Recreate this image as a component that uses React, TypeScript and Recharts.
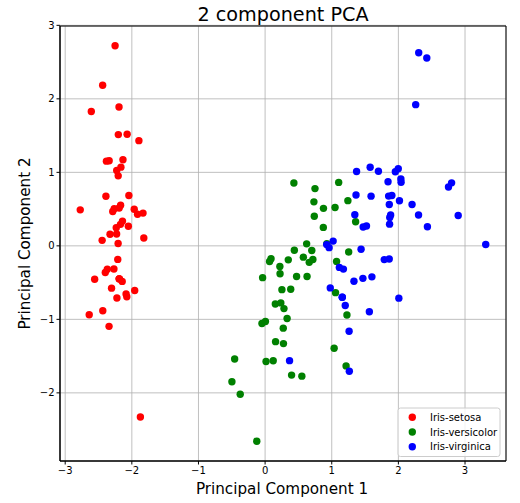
import React from "react";
import {
  ScatterChart, Scatter, XAxis, YAxis, CartesianGrid, ReferenceArea,
} from "recharts";

// principal component values per species, [pc1, pc2]
const setosa: [number, number][] = [
  [-2.264542, 0.505704], [-2.086426, -0.655405], [-2.36795, -0.318477], [-2.304197, -0.575368],
  [-2.388777, 0.674767], [-2.070537, 1.518549], [-2.445711, 0.074563], [-2.233842, 0.247614],
  [-2.341958, -1.095146], [-2.188676, -0.448629], [-2.163487, 1.070596], [-2.327378, 0.158587],
  [-2.224083, -0.709118], [-2.639716, -0.938282], [-2.192292, 1.889979], [-2.251465, 2.722371],
  [-2.20275, 1.51375], [-2.190179, 0.514304], [-1.894074, 1.431111], [-2.339949, 1.158033],
  [-1.914556, 0.430465], [-2.204644, 0.952457], [-2.77417, 0.489517], [-1.820412, 0.106751],
  [-2.228217, 0.162186], [-1.957024, -0.607893], [-2.052063, 0.266014], [-2.168193, 0.552017],
  [-2.140309, 0.33664], [-2.268798, -0.314878], [-2.144551, -0.483942], [-1.831936, 0.445266],
  [-2.608207, 1.828479], [-2.437953, 2.185396], [-2.188676, -0.448629], [-2.211111, -0.184337],
  [-2.044416, 0.684956], [-2.188676, -0.448629], [-2.435951, -0.88217], [-2.170545, 0.292727],
  [-2.286475, 0.467992], [-1.871706, -2.327692], [-2.557833, -0.453816], [-1.964279, 0.497392],
  [-2.133373, 1.171432], [-2.075357, -0.691917], [-2.381258, 1.152634], [-2.39819, -0.36239],
  [-2.226782, 1.025483], [-2.205954, 0.032238],
];
const versicolor: [number, number][] = [
  [1.103994, 0.863112], [0.732481, 0.598636], [1.242109, 0.614822], [0.397307, -1.758169],
  [1.072594, -0.211758], [0.384458, -0.591062], [0.748716, 0.778699], [-0.497863, -1.848869],
  [0.926222, 0.030331], [0.004968, -1.029401], [-0.124697, -2.658063], [0.43873, -0.058881],
  [0.551634, -1.772582], [0.717165, -0.185434], [-0.037258, -0.432795], [0.87589, 0.509998],
  [0.348006, -0.190621], [0.153392, -0.790725], [1.2153, -1.633356], [0.156941, -1.303103],
  [0.738256, 0.40247], [0.472369, -0.416608], [1.227988, -0.940915], [0.629381, -0.416812],
  [0.700473, -0.063495], [0.873537, 0.250709], [1.254223, -0.08262], [1.358405, 0.32882],
  [0.662127, -0.224346], [-0.047282, -1.057217], [0.121531, -1.563592], [0.014118, -1.573392],
  [0.236011, -0.775924], [1.056694, -0.636901], [0.221417, -0.280848], [0.431783, 0.855137],
  [1.049414, 0.522198], [1.035851, -1.392465], [0.067067, -0.212621], [0.275426, -1.329816],
  [0.272335, -1.119442], [0.62317, 0.027543], [0.330005, -0.988901], [-0.373628, -2.017932],
  [0.282944, -0.853951], [0.089053, -0.174909], [0.224357, -0.380485], [0.573883, -0.15372],
  [-0.457013, -1.538647], [0.252244, -0.595861],
];
const virginica: [number, number][] = [
  [1.844568, 0.871697], [1.157882, -0.69887], [2.205267, 0.56201], [1.440151, -0.046988],
  [1.867812, 0.295045], [2.751874, 0.800409], [0.366924, -1.561503], [2.302439, 0.420066],
  [2.006865, -0.711439], [2.259772, 1.92101], [1.364193, 0.692757], [1.602673, -0.421702],
  [1.883882, 0.41925], [1.260508, -1.1624], [1.467646, -0.442272], [1.590077, 0.676243],
  [1.471432, 0.255562], [2.426322, 2.556666], [3.310695, 0.017788], [1.263767, -1.706749],
  [2.037715, 0.910467], [0.97798, -0.571764], [2.897651, 0.413643], [1.333231, -0.481812],
  [1.700742, 1.013922], [1.954328, 1.007778], [1.175104, -0.316395], [1.020951, 0.064346],
  [1.788346, -0.187364], [1.863648, 0.562291], [2.435955, 0.259284], [2.304924, 2.626323],
  [1.862705, -0.17854], [1.114161, -0.292922], [1.202678, -0.811318], [2.79877, 0.856804],
  [1.576255, 1.068581], [1.346294, 0.422431], [0.923432, 0.017223], [1.853552, 0.676731],
  [2.016155, 0.613886], [1.902311, 0.685827], [1.157882, -0.69887], [2.040556, 0.864522],
  [1.998147, 1.048882], [1.870503, 0.386966], [1.56458, -0.896687], [1.52117, 0.269069],
  [1.372788, 1.011254], [0.960656, -0.024332],
];

const targets = ["Iris-setosa", "Iris-versicolor", "Iris-virginica"];
const colors = ["#ff0000", "#008000", "#0000ff"];
const xTicks = [-3, -2, -1, 0, 1, 2, 3];
const yTicks = [-2, -1, 0, 1, 2, 3];
const xDomain: [number, number] = [-3.078, 3.615];
const yDomain: [number, number] = [-2.927, 2.991];

const groups = [setosa, versicolor, virginica].map(g => g.map(([x, y]) => ({ x, y })));

const FONT = "DejaVu Sans, sans-serif";
const fmt = (v: number) => (v < 0 ? "\u2212" + Math.abs(v) : String(v));

const Dot = (props: any) => {
  const { cx, cy, fill } = props;
  return <circle cx={cx} cy={cy} r={3.7} fill={fill} />;
};

export default function App() {
  const tickStyle = { fill: "#000", fontSize: 10, fontFamily: FONT };
  return (
    <div style={{ position: "absolute", left: 0, top: 0, width: 520, height: 503, background: "#fff" }}>
      <ScatterChart width={520} height={503} margin={{ top: 26, right: 14, bottom: 0, left: 0 }}>
        <CartesianGrid stroke="#b0b0b0" strokeWidth={0.8} />
        <XAxis
          type="number" dataKey="x" domain={xDomain} ticks={xTicks}
          tickFormatter={fmt} tick={tickStyle} tickSize={3.5} tickMargin={2}
          axisLine={{ stroke: "#000" }} tickLine={{ stroke: "#000" }} height={42}
          allowDataOverflow
        />
        <YAxis
          type="number" dataKey="y" domain={yDomain} ticks={yTicks}
          tickFormatter={fmt} tick={tickStyle} tickSize={3.5} tickMargin={2}
          axisLine={{ stroke: "#000" }} tickLine={{ stroke: "#000" }} width={60}
          allowDataOverflow
        />
        <ReferenceArea
          x1={xDomain[0]} x2={xDomain[1]} y1={yDomain[0]} y2={yDomain[1]}
          fill="none" stroke="#000" strokeWidth={1} ifOverflow="visible"
        />
        {groups.map((g, i) => (
          <Scatter
            key={targets[i]} name={targets[i]} data={g} fill={colors[i]}
            shape={<Dot />} isAnimationActive={false}
          />
        ))}
        <g>
          <rect x={398} y={408} width={102} height={48.5} rx={2.5}
            fill="#fff" fillOpacity={0.8} stroke="#cccccc" />
          {targets.map((t, i) => (
            <g key={t}>
              <circle cx={412.3} cy={417.3 + i * 14.7} r={3.7} fill={colors[i]} />
              <text x={430} y={420.8 + i * 14.7} fontFamily={FONT} fontSize={10} fill="#000">{t}</text>
            </g>
          ))}
        </g>
        <text x={283} y={21} textAnchor="middle" fontFamily={FONT} fontSize={19.2} fill="#000">
          2 component PCA
        </text>
        <text x={282} y={494} textAnchor="middle" fontFamily={FONT} fontSize={15.2} fill="#000">
          Principal Component 1
        </text>
        <text
          x={30} y={243.5} textAnchor="middle" fontFamily={FONT} fontSize={15.2} fill="#000"
          transform="rotate(-90 30 243.5)"
        >
          Principal Component 2
        </text>
      </ScatterChart>
    </div>
  );
}
